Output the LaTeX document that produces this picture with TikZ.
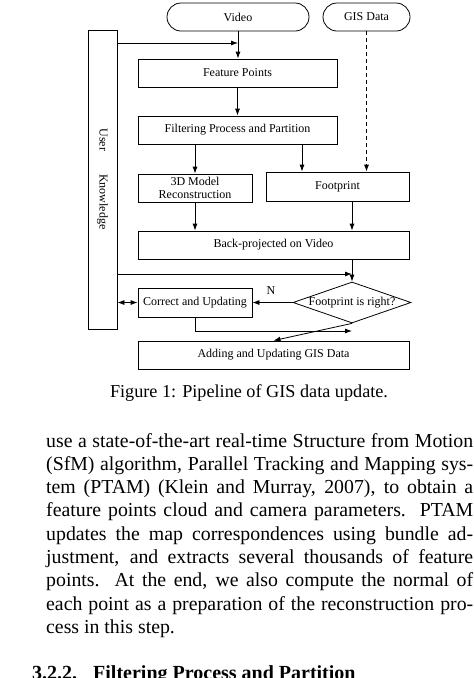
\documentclass[tikz,border=0pt]{standalone}
\usepackage{fontspec}
\setmainfont{Liberation Serif}
\usetikzlibrary{shapes.geometric,arrows.meta,calc}
\begin{document}
\begin{tikzpicture}[x=1pt,y=-1pt,
  box/.style={draw, line width=0.8pt, inner sep=0pt, font=\fontsize{12}{13.5}\selectfont, align=center},
  arr/.style={line width=0.8pt, -{Latex[length=7pt,width=5pt]}},
  dbl/.style={line width=0.8pt, {Latex[length=7pt,width=5pt]}-{Latex[length=7pt,width=5pt]}},
  lbl/.style={inner sep=0pt, font=\fontsize{12}{13.5}\selectfont}]
\useasboundingbox (0,0) rectangle (474,678);
\fill[white] (0,0) rectangle (474,678);
% nodes
\node[box, rounded corners=14pt, minimum width=142pt, minimum height=28pt] (video) at (238,17) {Video};
\node[box, rounded corners=14pt, minimum width=87pt, minimum height=28pt] (gis) at (366.5,17) {GIS Data};
\node[box, minimum width=29pt, minimum height=299pt] (user) at (102.5,179.5) {};
\node[lbl, rotate=-90] (usertxt) at (102.5,179) {User\hspace{23pt}Knowledge};
\node[box, minimum width=199pt, minimum height=28pt] (fp) at (237.5,73) {Feature Points};
\node[box, minimum width=199pt, minimum height=28pt] (filt) at (237.5,130) {Filtering Process and Partition};
\node[box, minimum width=114pt, minimum height=28pt] (model) at (195,188) {3D Model\\Reconstruction};
\node[box, minimum width=143pt, minimum height=29pt] (foot) at (337.5,186.5) {Footprint};
\node[box, minimum width=271pt, minimum height=28pt] (back) at (273.5,245) {Back-projected on Video};
\node[draw, diamond, line width=0.8pt, inner sep=0pt, minimum width=118pt, minimum height=41pt, font=\fontsize{12}{13.5}\selectfont] (dec) at (352,302.5) {\makebox[0pt]{Footprint is right?}};
\node[box, minimum width=114pt, minimum height=29pt] (corr) at (195,302.5) {Correct and Updating};
\node[box, minimum width=271pt, minimum height=28pt] (add) at (273.5,355) {Adding and Updating GIS Data};
\node[lbl] (nlab) at (271,291) {N};
% junctions
\coordinate (j1) at (238,43);
\coordinate (j2) at (352,274);
\coordinate (j3) at (352,331);
\coordinate (k1) at (302,0);
% connectors
\draw[arr] (video.south) -- (video.south |- fp.north);
\draw[arr] (user.east |- j1) -- (j1);
\draw[arr] (fp) -- (filt);
\draw[arr] (model.north |- filt.south) -- (model.north);
\draw[arr] (k1 |- filt.south) -- (k1 |- foot.north);
\draw[arr, dash pattern=on 4pt off 3pt] (gis.south) -- (gis.south |- foot.north);
\draw[arr] (model.south) -- (model.south |- back.north);
\draw[arr] (j2 |- foot.south) -- (j2 |- back.north);
\draw[arr] (j2 |- back.south) -- (dec.north);
\draw[arr] (user.east |- j2) -- (j2);
\draw[arr] (dec.west) -- (corr.east);
\draw[dbl] (user.east |- corr.west) -- (corr.west);
\draw[arr] (corr.south) |- (j3);
\draw[arr] (dec.south) -- (add.north);
% caption and text
\node[inner sep=0pt, anchor=base, font=\fontsize{18.2}{21}\selectfont] (cap) at (249,397) {Figure 1: Pipeline of GIS data update.};
\node[inner sep=0pt, anchor=base west] (para) at (46,447) {\parbox[t]{427pt}{\fontsize{19.8}{23.3}\selectfont
\makebox[427pt][s]{use a state-of-the-art real-time Structure from Motion}\\
\makebox[427pt][s]{(SfM) algorithm, Parallel Tracking and Mapping sys-}\\
\makebox[427pt][s]{tem (PTAM) (Klein and Murray, 2007), to obtain a}\\
\makebox[427pt][s]{feature points cloud and camera parameters.\ \ PTAM}\\
\makebox[427pt][s]{updates the map correspondences using bundle ad-}\\
\makebox[427pt][s]{justment, and extracts several thousands of feature}\\
\makebox[427pt][s]{points.\ \ At the end, we also compute the normal of}\\
\makebox[427pt][s]{each point as a preparation of the reconstruction pro-}\\
cess in this step.}};
\node[inner sep=0pt, anchor=base west, font=\fontsize{20}{23}\selectfont\bfseries] (head) at (32,679) {\makebox[61pt][l]{3.2.2.}Filtering Process and Partition};
\end{tikzpicture}
\end{document}
